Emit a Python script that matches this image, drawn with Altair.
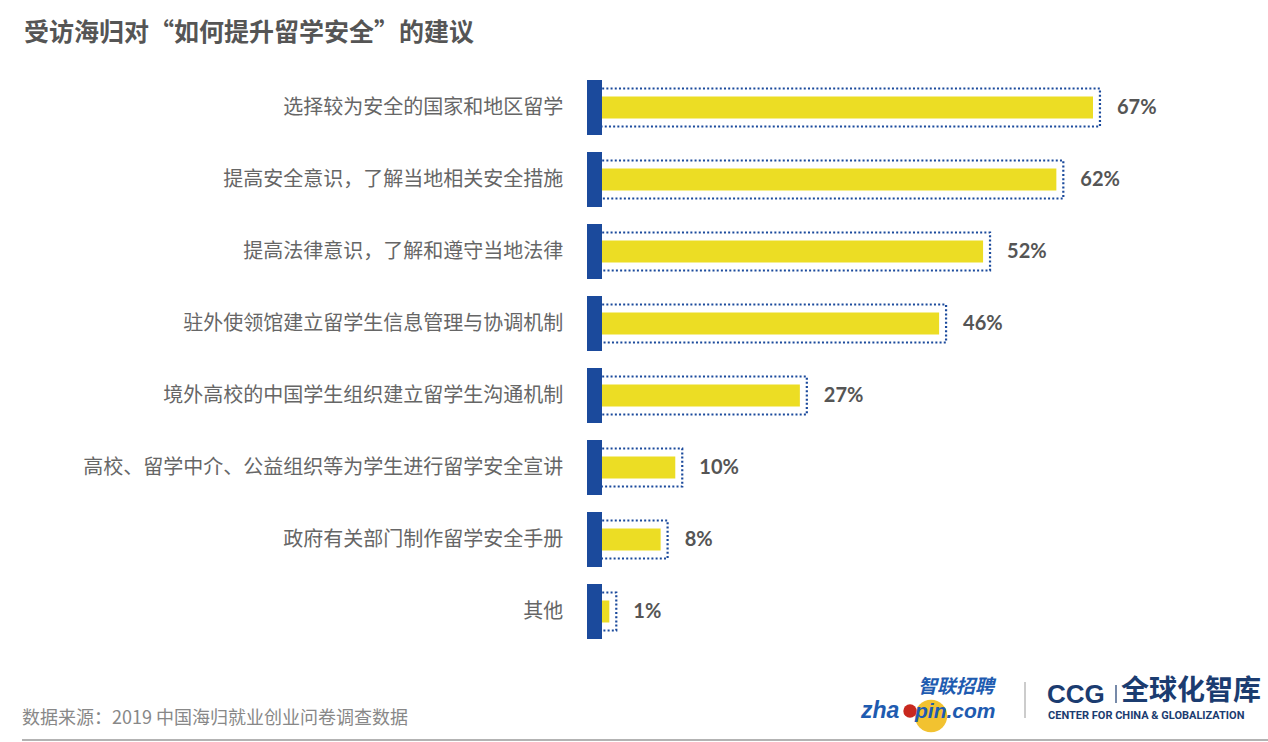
import altair as alt
import pandas as pd

categories = [
    "选择较为安全的国家和地区留学",
    "提高安全意识，了解当地相关安全措施",
    "提高法律意识，了解和遵守当地法律",
    "驻外使领馆建立留学生信息管理与协调机制",
    "境外高校的中国学生组织建立留学生沟通机制",
    "高校、留学中介、公益组织等为学生进行留学安全宣讲",
    "政府有关部门制作留学安全手册",
    "其他",
]
values = [67, 62, 52, 46, 27, 10, 8, 1]
value_labels = ["67%", "62%", "52%", "46%", "27%", "10%", "8%", "1%"]

title_text = "受访海归对“如何提升留学安全”的建议"
source_text = "数据来源：2019 中国海归就业创业问卷调查数据"

BLUE = "#1B4A9C"
YELLOW = "#ECDD24"
GRAY = "#555555"
CJK = "Noto Sans CJK SC"
NAVY = "#1B3C70"
ZBLUE = "#1E5BB0"

df = pd.DataFrame({"cat": categories, "value": values, "label": value_labels})
df["zero"] = 0.0
df["box_start"] = -0.55
df["box_end"] = df["value"] + 0.95
df["blue_start"] = -2.05
df["label_x"] = -5.3

xs = alt.Scale(domain=[0, 67], range=[602, 1093], nice=False, zero=False)
ys = alt.Scale(domain=categories, range=[71.5, 647.5], paddingInner=0, paddingOuter=0)
Y = alt.Y("cat:N", sort=categories, scale=ys, axis=None)

base = alt.Chart(df)

bars = base.mark_bar(height=22, color=YELLOW).encode(
    x=alt.X("zero:Q", scale=xs, axis=None), x2="value:Q", y=Y
)
boxes = base.mark_bar(
    height=38, fillOpacity=0, stroke=BLUE, strokeWidth=2.2, strokeDash=[2, 2.2]
).encode(x=alt.X("box_start:Q", scale=xs, axis=None), x2="box_end:Q", y=Y)
blue = base.mark_bar(height=55, color=BLUE).encode(
    x=alt.X("blue_start:Q", scale=xs, axis=None), x2="zero:Q", y=Y
)
vlabels = base.mark_text(
    align="left", baseline="middle", dx=24, fontSize=20, fontWeight="bold",
    font="Lato", color=GRAY
).encode(x=alt.X("value:Q", scale=xs, axis=None), y=Y, text="label:N")
clabels = base.mark_text(
    align="right", baseline="middle", fontSize=20, font=CJK, color="#666666"
).encode(x=alt.X("label_x:Q", scale=xs, axis=None), y=Y, text="cat:N")

one = alt.Data(values=[{"a": 1}])


def txt(s, x, y, size, color, weight="normal", font=CJK, align="left",
        italic=False, baseline="middle"):
    kw = dict(align=align, baseline=baseline, fontSize=size, color=color,
              fontWeight=weight, font=font, text=s)
    if italic:
        kw["fontStyle"] = "italic"
    return alt.Chart(one).mark_text(**kw).encode(x=alt.value(x), y=alt.value(y))


title = txt(title_text, 24, 33, 25, "#555555", weight="bold")
source = txt(source_text, 22, 719, 18, "#888888")
bottom = alt.Chart(one).mark_rule(color="#9a9a9a", strokeWidth=1.5).encode(
    x=alt.value(22), x2=alt.value(1268), y=alt.value(740)
)

# logos (decorative)
ycircle = alt.Chart(one).mark_circle(size=1050, color="#F2C230", opacity=1).encode(
    x=alt.value(931), y=alt.value(716)
)
rball = alt.Chart(one).mark_circle(size=180, color="#C8281E", opacity=1).encode(
    x=alt.value(910), y=alt.value(711)
)
zl = txt("智联招聘", 918, 687, 19, ZBLUE, weight="bold", italic=True)
zha = txt("zha", 861, 718, 23, ZBLUE, weight="bold", font="Liberation Sans",
          italic=True, baseline="alphabetic")
pin = txt("pin.com", 915, 718, 21, ZBLUE, weight="bold", font="Liberation Sans",
          italic=True, baseline="alphabetic")
sep = alt.Chart(one).mark_rule(color="#bbbbbb", strokeWidth=1.5).encode(
    x=alt.value(1025), y=alt.value(682), y2=alt.value(718)
)
ccg = txt("CCG", 1047, 703, 26, NAVY, weight="bold", font="Liberation Sans",
          baseline="alphabetic")
sep2 = alt.Chart(one).mark_rule(color=NAVY, strokeWidth=1.2).encode(
    x=alt.value(1116), y=alt.value(685), y2=alt.value(703)
)
qq = txt("全球化智库", 1121, 692, 28, NAVY, weight="bold")
cfc = txt("CENTER FOR CHINA & GLOBALIZATION", 1048, 719, 11, NAVY,
          weight="bold", font="Roboto", baseline="alphabetic")

chart = alt.layer(
    bars, boxes, blue, vlabels, clabels, title, source, bottom,
    ycircle, rball, zl, zha, pin, sep, ccg, sep2, qq, cfc
).properties(
    width=1268, height=742, autosize=alt.AutoSizeParams(type="none"), padding=0,
    background="white"
).configure_view(stroke=None)

chart.save("out.html", embed_options={"renderer": "svg", "actions": False})
